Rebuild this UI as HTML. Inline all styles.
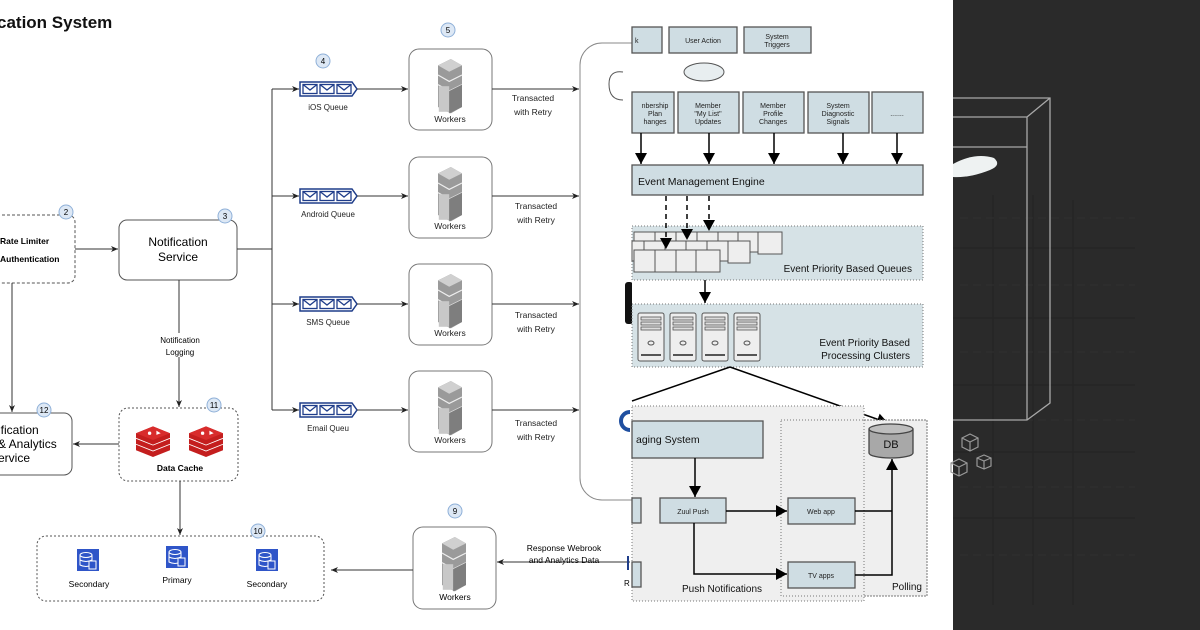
<!DOCTYPE html>
<html><head><meta charset="utf-8"><style>
html,body{margin:0;padding:0;background:#fff}
svg{display:block}
text{font-family:"Liberation Sans",sans-serif}
</style></head><body>
<svg width="1200" height="630" viewBox="0 0 1200 630" xmlns="http://www.w3.org/2000/svg">
<defs>
<marker id="a" markerWidth="8" markerHeight="8" refX="7" refY="4" orient="auto" markerUnits="userSpaceOnUse"><path d="M0,1 L7,4 L0,7 L2,4 z" fill="#222"/></marker>
<marker id="b" markerWidth="12" markerHeight="12" refX="11" refY="6" orient="auto" markerUnits="userSpaceOnUse"><path d="M0,0 L11,6 L0,12 z" fill="#000"/></marker>
<g id="srv0">
<path d="M0,8 L16,0 L30,8 L30,60 L16,68 L0,60 z" fill="#9a9a9a"/>
<path d="M0,8 L16,0 L30,8 L14,16 z" fill="#d0d0d0"/>
<path d="M0,20 L14,28 L30,20 M0,32 L14,40 L30,32" stroke="#eee" stroke-width="1.5" fill="none"/>
<rect x="1" y="34" width="13" height="32" fill="#c8c8c8"/>
<path d="M14,40 L30,32 L30,60 L14,68 z" fill="#7e7e7e"/>
</g>
<g id="srv"><use href="#srv0" transform="scale(0.8)"/></g>
<g id="q">
<path d="M0,0 H52 L57,7 L52,14 H0 z" fill="#fff" stroke="#1f3d8a" stroke-width="1.5"/>
<g fill="none" stroke="#1f3d8a" stroke-width="1.3">
<rect x="3" y="2.5" width="14" height="9"/><path d="M3,2.5 L10,8 L17,2.5"/>
<rect x="20" y="2.5" width="14" height="9"/><path d="M20,2.5 L27,8 L34,2.5"/>
<rect x="37" y="2.5" width="14" height="9"/><path d="M37,2.5 L44,8 L51,2.5"/>
</g>
</g>
<g id="badge"><circle r="7" fill="#dde8f5" stroke="#8fb0d8" stroke-width="1"/></g>
<g id="dbi"><rect x="0" y="0" width="22" height="22" fill="#2f55c8"/><ellipse cx="9" cy="6" rx="6" ry="2.5" fill="none" stroke="#fff"/><path d="M3,6 V16 Q9,19 15,16 V6 M3,11 Q9,14 15,11" fill="none" stroke="#fff"/><rect x="12" y="12" width="7" height="8" fill="#2f55c8" stroke="#fff"/></g>
<g id="redis"><path d="M-20,-8 L0,-16 L20,-8 L20,12 L0,20 L-20,12 z" fill="#c41e1e"/><path d="M-20,-2 L0,6 L20,-2 M-20,5 L0,13 L20,5" stroke="#fff" stroke-width="1" fill="none"/><path d="M-20,-8 L0,-16 L20,-8 L0,0 z" fill="#d82c2c"/><circle cx="-4" cy="-8" r="2" fill="#fff"/><path d="M4,-11 L9,-8 L4,-6 z" fill="#fff"/></g>
<g id="rack"><rect x="0" y="0" width="26" height="48" rx="2" fill="#eee" stroke="#555"/><rect x="3" y="4" width="20" height="3" fill="#ddd" stroke="#555" stroke-width=".8"/><rect x="3" y="9" width="20" height="3" fill="#ddd" stroke="#555" stroke-width=".8"/><rect x="3" y="14" width="20" height="3" fill="#ddd" stroke="#555" stroke-width=".8"/><ellipse cx="13" cy="30" rx="3" ry="2" fill="none" stroke="#555"/><path d="M3,42 H23" stroke="#555" stroke-width="2"/></g>
</defs>

<!-- LEFT PANEL -->
<rect x="0" y="0" width="632" height="630" fill="#fff"/>
<text x="-3" y="28" font-size="17" font-weight="bold" fill="#111">cation System</text>

<rect x="-10" y="215" width="85" height="68" rx="7" fill="#fff" stroke="#555" stroke-dasharray="3,2"/>
<text x="0" y="244" font-size="8.5" font-weight="bold">Rate Limiter</text>
<text x="0" y="262" font-size="8.5" font-weight="bold">Authentication</text>
<use href="#badge" x="66" y="212"/><text x="66" y="215" font-size="8" text-anchor="middle">2</text>
<line x1="75" y1="249" x2="118" y2="249" stroke="#333" marker-end="url(#a)"/>

<rect x="119" y="220" width="118" height="60" rx="8" fill="#fff" stroke="#555"/>
<text x="178" y="246" font-size="12" text-anchor="middle">Notification</text>
<text x="178" y="261" font-size="12" text-anchor="middle">Service</text>
<use href="#badge" x="225" y="216"/><text x="225" y="219" font-size="8" text-anchor="middle">3</text>
<path d="M237,249 H272 M272,89 V410" stroke="#333" fill="none"/>

<use href="#badge" x="323" y="61"/><text x="323" y="64" font-size="8" text-anchor="middle">4</text>
<use href="#badge" x="448" y="30"/><text x="448" y="33" font-size="8" text-anchor="middle">5</text>
<g font-size="8" text-anchor="middle" fill="#222">
<line x1="272" y1="89" x2="299" y2="89" stroke="#333" marker-end="url(#a)"/>
<use href="#q" x="300" y="82"/><text x="328" y="110">iOS Queue</text>
<line x1="357" y1="89" x2="408" y2="89" stroke="#333" marker-end="url(#a)"/>
<line x1="272" y1="196" x2="299" y2="196" stroke="#333" marker-end="url(#a)"/>
<use href="#q" x="300" y="189"/><text x="328" y="217">Android Queue</text>
<line x1="357" y1="196" x2="408" y2="196" stroke="#333" marker-end="url(#a)"/>
<line x1="272" y1="304" x2="299" y2="304" stroke="#333" marker-end="url(#a)"/>
<use href="#q" x="300" y="297"/><text x="328" y="325">SMS Queue</text>
<line x1="357" y1="304" x2="408" y2="304" stroke="#333" marker-end="url(#a)"/>
<line x1="272" y1="410" x2="299" y2="410" stroke="#333" marker-end="url(#a)"/>
<use href="#q" x="300" y="403"/><text x="328" y="431">Email Queu</text>
<line x1="357" y1="410" x2="408" y2="410" stroke="#333" marker-end="url(#a)"/>
</g>
<g font-size="8.5" text-anchor="middle" fill="#222">
<rect x="409" y="49" width="83" height="81" rx="10" fill="#fff" stroke="#777"/><use href="#srv" x="438" y="59"/><text x="450" y="122">Workers</text>
<rect x="409" y="157" width="83" height="81" rx="10" fill="#fff" stroke="#777"/><use href="#srv" x="438" y="167"/><text x="450" y="229">Workers</text>
<rect x="409" y="264" width="83" height="81" rx="10" fill="#fff" stroke="#777"/><use href="#srv" x="438" y="274"/><text x="450" y="336">Workers</text>
<rect x="409" y="371" width="83" height="81" rx="10" fill="#fff" stroke="#777"/><use href="#srv" x="438" y="381"/><text x="450" y="443">Workers</text>
<line x1="492" y1="89" x2="579" y2="89" stroke="#333" marker-end="url(#a)"/><text x="533" y="101">Transacted</text><text x="533" y="115">with Retry</text>
<line x1="492" y1="196" x2="579" y2="196" stroke="#333" marker-end="url(#a)"/><text x="536" y="209">Transacted</text><text x="536" y="223">with Retry</text>
<line x1="492" y1="304" x2="579" y2="304" stroke="#333" marker-end="url(#a)"/><text x="536" y="318">Transacted</text><text x="536" y="332">with Retry</text>
<line x1="492" y1="410" x2="579" y2="410" stroke="#333" marker-end="url(#a)"/><text x="536" y="426">Transacted</text><text x="536" y="440">with Retry</text>
</g>
<rect x="580" y="43" width="120" height="457" rx="22" fill="#fff" stroke="#888"/>

<line x1="179" y1="280" x2="179" y2="407" stroke="#333" marker-end="url(#a)"/>
<rect x="150" y="333" width="60" height="24" fill="#fff"/>
<text x="180" y="343" font-size="8" text-anchor="middle">Notification</text>
<text x="180" y="355" font-size="8" text-anchor="middle">Logging</text>
<line x1="12" y1="283" x2="12" y2="412" stroke="#333" marker-end="url(#a)"/>

<rect x="119" y="408" width="119" height="73" rx="9" fill="#fff" stroke="#555" stroke-dasharray="2,2"/>
<use href="#badge" x="214" y="405"/><text x="214" y="408" font-size="8" text-anchor="middle">11</text>
<use href="#redis" transform="translate(153,440) scale(0.85)"/>
<use href="#redis" transform="translate(206,440) scale(0.85)"/>
<text x="180" y="471" font-size="8.5" font-weight="bold" text-anchor="middle">Data Cache</text>
<line x1="119" y1="444" x2="73" y2="444" stroke="#333" marker-end="url(#a)"/>
<rect x="-20" y="413" width="92" height="62" rx="8" fill="#fff" stroke="#555"/>
<text x="-2" y="434" font-size="12">ification</text>
<text x="-2" y="448" font-size="12">&amp; Analytics</text>
<text x="-2" y="462" font-size="12">ervice</text>
<use href="#badge" x="44" y="410"/><text x="44" y="413" font-size="8" text-anchor="middle">12</text>
<line x1="180" y1="481" x2="180" y2="535" stroke="#333" marker-end="url(#a)"/>

<rect x="37" y="536" width="287" height="65" rx="9" fill="#fff" stroke="#555" stroke-dasharray="2,2"/>
<use href="#badge" x="258" y="531"/><text x="258" y="534" font-size="8" text-anchor="middle">10</text>
<use href="#dbi" x="77" y="549"/><text x="89" y="587" font-size="8.5" text-anchor="middle">Secondary</text>
<use href="#dbi" x="166" y="546"/><text x="177" y="583" font-size="8.5" text-anchor="middle">Primary</text>
<use href="#dbi" x="256" y="549"/><text x="267" y="587" font-size="8.5" text-anchor="middle">Secondary</text>

<rect x="413" y="527" width="83" height="82" rx="10" fill="#fff" stroke="#777"/><use href="#srv" x="442" y="537"/><text x="455" y="600" font-size="8.5" text-anchor="middle">Workers</text>
<use href="#badge" x="455" y="511"/><text x="455" y="514" font-size="8" text-anchor="middle">9</text>
<line x1="413" y1="570" x2="331" y2="570" stroke="#333" marker-end="url(#a)"/>
<line x1="630" y1="562" x2="497" y2="562" stroke="#333" marker-end="url(#a)"/>
<text x="564" y="551" font-size="8.5" text-anchor="middle">Response Webrook</text>
<text x="564" y="563" font-size="8.5" text-anchor="middle">and Analytics Data</text>
<path d="M628,556 v14" stroke="#1f3d8a" stroke-width="2"/>
<text x="624" y="586" font-size="8">R</text>
<path d="M630,412 a9,9 0 0 0 0,18" stroke="#1f4fa0" stroke-width="4" fill="none"/>
<rect x="625" y="282" width="8" height="42" rx="3" fill="#111"/>
<path d="M623,72 q-14,-2 -14,12 q0,16 14,16" fill="none" stroke="#555"/>

<!-- MIDDLE PANEL -->
<rect x="632" y="0" width="321" height="630" fill="#fff"/>
<g stroke="#555" stroke-width="1.3" fill="#cfdde3">
<rect x="632" y="27" width="30" height="26"/>
<rect x="669" y="27" width="68" height="26"/>
<rect x="744" y="27" width="67" height="26"/>
<rect x="632" y="92" width="42" height="41"/>
<rect x="678" y="92" width="61" height="41"/>
<rect x="743" y="92" width="61" height="41"/>
<rect x="808" y="92" width="61" height="41"/>
<rect x="872" y="92" width="51" height="41"/>
<rect x="632" y="165" width="291" height="30"/>
</g>
<ellipse cx="704" cy="72" rx="20" ry="9" fill="#e8eef0" stroke="#555"/>
<g font-size="7" text-anchor="middle" fill="#222">
<text x="635" y="43" text-anchor="start">k</text>
<text x="703" y="43">User Action</text>
<text x="777" y="39">System</text><text x="777" y="47">Triggers</text>
<text x="655" y="108">nbership</text><text x="655" y="116">Plan</text><text x="655" y="124">hanges</text>
<text x="708" y="108">Member</text><text x="708" y="116">"My List"</text><text x="708" y="124">Updates</text>
<text x="773" y="108">Member</text><text x="773" y="116">Profile</text><text x="773" y="124">Changes</text>
<text x="838" y="108">System</text><text x="838" y="116">Diagnostic</text><text x="838" y="124">Signals</text>
<text x="897" y="116">.......</text>
</g>
<g stroke="#000" stroke-width="1.5" marker-end="url(#b)">
<line x1="641" y1="133" x2="641" y2="164"/>
<line x1="709" y1="133" x2="709" y2="164"/>
<line x1="774" y1="133" x2="774" y2="164"/>
<line x1="843" y1="133" x2="843" y2="164"/>
<line x1="897" y1="133" x2="897" y2="164"/>
</g>
<text x="638" y="185" font-size="10.5" fill="#111">Event Management Engine</text>

<rect x="632" y="226" width="291" height="54" fill="#d6e2e6" stroke="#777" stroke-dasharray="1,2"/>
<g fill="#eee" stroke="#555">
<rect x="634" y="232" width="21" height="20"/><rect x="655" y="232" width="21" height="20"/><rect x="676" y="232" width="21" height="20"/><rect x="697" y="232" width="21" height="20"/><rect x="718" y="232" width="20" height="20"/><rect x="738" y="232" width="20" height="20"/><rect x="758" y="232" width="24" height="22"/>
<rect x="632" y="241" width="12" height="20"/><rect x="644" y="241" width="21" height="20"/><rect x="665" y="241" width="21" height="20"/><rect x="686" y="241" width="21" height="20"/><rect x="707" y="241" width="21" height="20"/><rect x="728" y="241" width="22" height="22"/>
<rect x="634" y="250" width="21" height="22"/><rect x="655" y="250" width="21" height="22"/><rect x="676" y="250" width="20" height="22"/><rect x="696" y="250" width="24" height="22"/>
</g>
<g stroke="#000" stroke-width="1.5" stroke-dasharray="5,4" marker-end="url(#b)">
<line x1="666" y1="196" x2="666" y2="249"/>
<line x1="687" y1="196" x2="687" y2="240"/>
<line x1="709" y1="196" x2="709" y2="231"/>
</g>
<text x="912" y="272" font-size="10" text-anchor="end" fill="#111">Event Priority Based Queues</text>
<line x1="705" y1="280" x2="705" y2="303" stroke="#000" stroke-width="1.5" marker-end="url(#b)"/>

<rect x="632" y="304" width="291" height="63" fill="#d6e2e6" stroke="#777" stroke-dasharray="1,2"/>
<use href="#rack" x="638" y="313"/><use href="#rack" x="670" y="313"/><use href="#rack" x="702" y="313"/><use href="#rack" x="734" y="313"/>
<text x="910" y="346" font-size="10" text-anchor="end" fill="#111">Event Priority Based</text>
<text x="910" y="359" font-size="10" text-anchor="end" fill="#111">Processing Clusters</text>
<path d="M730,367 L632,401" stroke="#000" stroke-width="1.5"/>
<line x1="730" y1="367" x2="888" y2="423" stroke="#000" stroke-width="1.5" marker-end="url(#b)"/>

<rect x="632" y="406" width="232" height="195" fill="#efefef" stroke="#777" stroke-dasharray="1,2"/>
<rect x="864" y="420" width="63" height="176" fill="#efefef" stroke="#777" stroke-dasharray="1,2"/>
<rect x="781" y="420" width="146" height="176" fill="none" stroke="#777" stroke-dasharray="1,2"/>
<rect x="632" y="421" width="131" height="37" fill="#cfdde3" stroke="#555" stroke-width="1.3"/>
<text x="636" y="443" font-size="10.5" fill="#111">aging System</text>
<line x1="695" y1="458" x2="695" y2="497" stroke="#000" stroke-width="1.5" marker-end="url(#b)"/>
<g fill="#cfdde3" stroke="#555" stroke-width="1.3">
<rect x="632" y="498" width="9" height="25"/><rect x="632" y="562" width="9" height="25"/>
<rect x="660" y="498" width="66" height="25"/>
<rect x="788" y="498" width="67" height="26"/>
<rect x="788" y="562" width="67" height="26"/>
</g>
<g font-size="7" text-anchor="middle" fill="#222">
<text x="693" y="514">Zuul Push</text><text x="821" y="514">Web app</text><text x="821" y="578">TV apps</text>
</g>
<g stroke="#000" stroke-width="1.5" fill="none">
<line x1="726" y1="511" x2="787" y2="511" marker-end="url(#b)"/>
<path d="M694,523 V574 H787" marker-end="url(#b)"/>
<path d="M855,511 H892 M855,575 H892 V459" marker-end="url(#b)"/>
</g>
<path d="M869,429 V453 A22,5 0 0 0 913,453 V429" fill="#a8a8a8" stroke="#444" stroke-width="1.3"/>
<ellipse cx="891" cy="429" rx="22" ry="5" fill="#bdbdbd" stroke="#444" stroke-width="1.3"/>
<text x="891" y="448" font-size="11" text-anchor="middle" fill="#111">DB</text>
<text x="722" y="592" font-size="10" text-anchor="middle" fill="#111">Push Notifications</text>
<text x="922" y="590" font-size="10" text-anchor="end" fill="#111">Polling</text>

<!-- RIGHT PANEL -->
<rect x="953" y="0" width="247" height="630" fill="#2a2a2a"/>
<g stroke="#242424" stroke-width="1.2">
<line x1="993" y1="195" x2="993" y2="605"/><line x1="1033" y1="195" x2="1033" y2="605"/><line x1="1073" y1="200" x2="1073" y2="605"/>
<line x1="953" y1="248" x2="1135" y2="248"/><line x1="953" y1="318" x2="1135" y2="318"/><line x1="953" y1="385" x2="1135" y2="385"/><line x1="953" y1="452" x2="1135" y2="452"/><line x1="953" y1="518" x2="1135" y2="518"/>
</g>
<g stroke="#303030" stroke-width="1" stroke-dasharray="8,5">
<line x1="960" y1="218" x2="1135" y2="218"/><line x1="960" y1="285" x2="1135" y2="285"/><line x1="960" y1="352" x2="1135" y2="352"/><line x1="960" y1="420" x2="1135" y2="420"/><line x1="960" y1="487" x2="1135" y2="487"/><line x1="960" y1="555" x2="1135" y2="555"/>
</g>
<g stroke="#a8a8a8" stroke-width="1.3" fill="none">
<path d="M953,98 H1050 V403 L1027,420 H953"/>
<path d="M953,117 H1027 V420 M1027,117 L1050,98"/>
<line x1="953" y1="147" x2="1027" y2="147"/>
</g>
<path d="M953,164 Q975,152 994,158 Q1002,165 990,170 Q970,178 953,177 z" fill="#eef2f2"/>
<g stroke="#999" stroke-width="1.2" fill="none">
<path d="M962,438 l8,-4 l8,4 v9 l-8,4 l-8,-4 z M962,438 l8,4 l8,-4 M970,442 v9"/>
<path d="M951,463 l8,-4 l8,4 v9 l-8,4 l-8,-4 z M951,463 l8,4 l8,-4 M959,467 v9"/>
<path d="M977,458 l7,-3 l7,3 v8 l-7,3 l-7,-3 z M977,458 l7,3 l7,-3 M984,461 v8"/>
</g>
</svg>
</body></html>
